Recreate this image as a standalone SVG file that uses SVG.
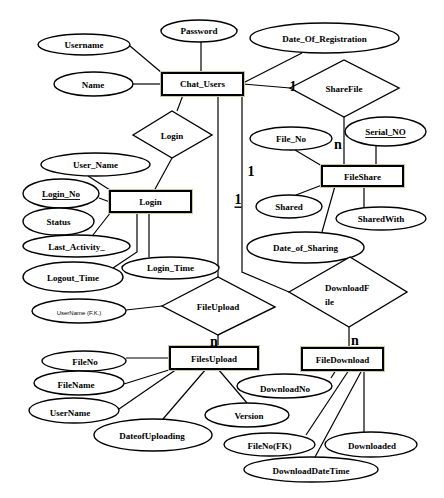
<svg xmlns="http://www.w3.org/2000/svg" width="444" height="498" viewBox="0 0 444 498">
<style>
.e{fill:#fff;stroke:#000;stroke-width:1.4}
.d{fill:#fff;stroke:#000;stroke-width:1.4}
.r{fill:#fff;stroke:#000;stroke-width:2}
.rs{fill:none;stroke:#c9c9a8;stroke-width:4}
.l{fill:none;stroke:#000;stroke-width:1.2}
text{font-family:"Liberation Serif","Times New Roman",serif;font-weight:bold;font-size:9px;text-anchor:middle;dominant-baseline:central;fill:#000}
.c{font-size:14px}
.s{font-family:"Liberation Sans",Arial,sans-serif;font-weight:normal;font-size:6px}
</style>
<g id="connectors">
<line class="l" x1="130" y1="46" x2="162" y2="73"/>
<line class="l" x1="201" y1="42" x2="201" y2="73"/>
<line class="l" x1="133" y1="84" x2="162" y2="84"/>
<line class="l" x1="302" y1="53" x2="243" y2="83"/>
<line class="l" x1="243" y1="84" x2="290" y2="88"/>
<line class="l" x1="344" y1="117" x2="344" y2="166"/>
<line class="l" x1="376" y1="146" x2="376" y2="166"/>
<line class="l" x1="295" y1="150" x2="322" y2="166"/>
<line class="l" x1="296" y1="195" x2="322" y2="185"/>
<line class="l" x1="364" y1="186" x2="364" y2="207"/>
<line class="l" x1="322" y1="232" x2="335" y2="186"/>
<polyline class="l" points="218,95 218,277"/>
<polyline class="l" points="242,95 242,272 289,292"/>
<line class="l" x1="183" y1="95" x2="177" y2="111"/>
<line class="l" x1="172" y1="158" x2="154" y2="191"/>
<line class="l" x1="88" y1="176" x2="110" y2="190"/>
<line class="l" x1="99" y1="198" x2="110" y2="202"/>
<line class="l" x1="93" y1="235" x2="111" y2="212"/>
<polyline class="l" points="113,268 137,252 137,212"/>
<line class="l" x1="149" y1="212" x2="149" y2="257"/>
<line class="l" x1="126" y1="310" x2="162" y2="306"/>
<line class="l" x1="218" y1="335" x2="218" y2="347"/>
<line class="l" x1="126" y1="358" x2="170" y2="358"/>
<line class="l" x1="124" y1="384" x2="172" y2="369"/>
<line class="l" x1="119" y1="409" x2="177" y2="369"/>
<line class="l" x1="163" y1="419" x2="206" y2="369"/>
<line class="l" x1="218" y1="369" x2="247" y2="403"/>
<line class="l" x1="349" y1="327" x2="349" y2="348"/>
<line class="l" x1="331" y1="378" x2="336" y2="370"/>
<line class="l" x1="306" y1="435" x2="349" y2="370"/>
<line class="l" x1="315" y1="457" x2="362" y2="370"/>
<line class="l" x1="364" y1="370" x2="364" y2="432"/>
</g>
<g id="Chat_Users"><rect class="rs" x="162" y="73" width="81" height="22"/><rect class="r" x="162" y="73" width="81" height="22"/><text x="202.5" y="84">Chat_Users</text></g>
<g id="Username"><ellipse class="e" cx="84" cy="44.5" rx="46" ry="10.5"/><text x="84" y="45">Username</text></g>
<g id="Password"><ellipse class="e" cx="199" cy="31" rx="38" ry="11"/><text x="199" y="31">Password</text></g>
<g id="Name"><ellipse class="e" cx="93.5" cy="84" rx="39.5" ry="12"/><text x="93" y="85">Name</text></g>
<g id="Date_Of_Registration"><ellipse class="e" cx="324.5" cy="38" rx="74.5" ry="15"/><text x="324.5" y="38.5">Date_Of_Registration</text></g>
<g id="ShareFile"><polygon class="d" points="290,88 344,60 399,88 344,117"/><text x="344" y="89">ShareFile</text></g>
<g id="FileShare"><rect class="rs" x="322" y="166" width="81" height="20"/><rect class="r" x="322" y="166" width="81" height="20"/><text x="362.5" y="176.5">FileShare</text></g>
<g id="Serial_NO"><ellipse class="e" cx="385.5" cy="131.5" rx="40.5" ry="14.5"/><text x="385.5" y="132" text-decoration="underline">Serial_NO</text></g>
<g id="File_No"><ellipse class="e" cx="291" cy="138.5" rx="41" ry="11.5"/><text x="291" y="139">File_No</text></g>
<g id="Shared"><ellipse class="e" cx="289" cy="206.5" rx="33" ry="11.5"/><text x="289" y="207">Shared</text></g>
<g id="SharedWith"><ellipse class="e" cx="381" cy="218.5" rx="45" ry="11.5"/><text x="381" y="219">SharedWith</text></g>
<g id="Date_of_Sharing"><ellipse class="e" cx="305.5" cy="247.5" rx="58.5" ry="15.5"/><text x="305.5" y="248">Date_of_Sharing</text></g>
<g id="DownloadFile"><polygon class="d" points="289,292 350,257 407,292 349,327"/><text x="325" y="288" style="text-anchor:start">DownloadF</text><text x="325" y="302" style="text-anchor:start">ile</text></g>
<g id="Login_rel"><polygon class="d" points="133,135 172,111 212,135 172,158"/><text x="172" y="135.5">Login</text></g>
<g id="Login"><rect class="rs" x="110" y="191" width="81" height="21"/><rect class="r" x="110" y="191" width="81" height="21"/><text x="150.5" y="202">Login</text></g>
<g id="User_Name"><ellipse class="e" cx="95.5" cy="164.5" rx="54.5" ry="11.5"/><text x="95.5" y="165">User_Name</text></g>
<g id="Login_No"><ellipse class="e" cx="61" cy="193.5" rx="38" ry="14.5"/><text x="61" y="194" text-decoration="underline">Login_No</text></g>
<g id="Status"><ellipse class="e" cx="58.5" cy="221.5" rx="35.5" ry="13.5"/><text x="58.5" y="222">Status</text></g>
<g id="Last_Activity_"><ellipse class="e" cx="76.5" cy="246" rx="53.5" ry="11"/><text x="76.5" y="246.5">Last_Activity_</text></g>
<g id="Logout_Time"><ellipse class="e" cx="73" cy="277" rx="50" ry="15"/><text x="73" y="277.5">Logout_Time</text></g>
<g id="Login_Time"><ellipse class="e" cx="170.5" cy="268" rx="48.5" ry="11"/><text x="170.5" y="268">Login_Time</text></g>
<g id="FileUpload"><polygon class="d" points="162,306 218,277 275,307 218,335"/><text x="218" y="307">FileUpload</text></g>
<g id="UserName_FK"><ellipse class="e" cx="79" cy="311" rx="47" ry="12"/><text class="s" x="79" y="313">UserName (F.K.)</text></g>
<g id="FilesUpload"><rect class="rs" x="170" y="347" width="88" height="22"/><rect class="r" x="170" y="347" width="88" height="22"/><text x="214" y="358.5">FilesUpload</text></g>
<g id="FileNo"><ellipse class="e" cx="84" cy="361" rx="42" ry="10"/><text x="85" y="361.5">FileNo</text></g>
<g id="FileName"><ellipse class="e" cx="79" cy="383" rx="45" ry="12"/><text x="76" y="385">FileName</text></g>
<g id="UserName"><ellipse class="e" cx="74" cy="410.5" rx="45" ry="12.5"/><text x="70" y="413">UserName</text></g>
<g id="DateofUploading"><ellipse class="e" cx="153" cy="435" rx="59" ry="16"/><text x="152" y="436">DateofUploading</text></g>
<g id="Version"><ellipse class="e" cx="247" cy="415" rx="42" ry="12"/><text x="249" y="416">Version</text></g>
<g id="FileDownload"><rect class="rs" x="302" y="348" width="81" height="22"/><rect class="r" x="302" y="348" width="81" height="22"/><text x="342.5" y="359.5">FileDownload</text></g>
<g id="DownloadNo"><ellipse class="e" cx="284.5" cy="386" rx="47.5" ry="12"/><text x="285" y="389">DownloadNo</text></g>
<g id="FileNo_FK"><ellipse class="e" cx="269.5" cy="444.5" rx="45.5" ry="11.5"/><text x="269.5" y="445.5">FileNo(FK)</text></g>
<g id="Downloaded"><ellipse class="e" cx="371" cy="444.5" rx="46" ry="12.5"/><text x="372" y="446">Downloaded</text></g>
<g id="DownloadDateTime"><ellipse class="e" cx="311" cy="469.5" rx="67" ry="12.5"/><text x="311" y="471">DownloadDateTime</text></g>
<g id="labels">
<text class="c" x="293" y="86">1</text>
<text class="c" x="338" y="144">n</text>
<text class="c" x="251" y="171">1</text>
<text class="c" x="238" y="199" text-decoration="underline">1</text>
<text class="c" x="214" y="341">n</text>
<text class="c" x="355" y="340">n</text>
</g>
</svg>
